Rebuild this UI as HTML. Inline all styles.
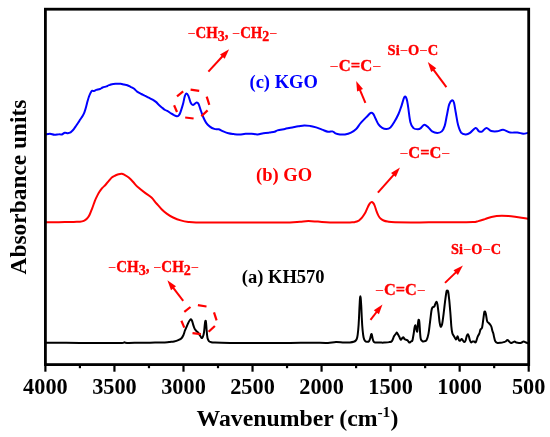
<!DOCTYPE html>
<html><head><meta charset="utf-8"><style>
html,body{margin:0;padding:0;background:#fff;}
body{width:550px;height:437px;overflow:hidden;}
svg{display:block;}
text{font-family:"Liberation Serif","Times New Roman",serif;font-weight:bold;}
</style></head><body>
<svg width="550" height="437" viewBox="0 0 550 437">
<rect width="550" height="437" fill="#fff"/>
<g fill="none" stroke-linejoin="round" stroke-linecap="round">
<path d="M45.5 134.5C46.2 134.4 48.5 133.6 50.0 133.7C51.5 133.8 52.9 134.7 54.4 134.8C55.9 134.9 57.7 134.2 58.9 134.2C60.1 134.1 60.8 134.8 61.8 134.5C62.8 134.2 63.8 132.9 64.8 132.7C65.8 132.5 66.9 133.2 67.8 133.2C68.7 133.2 69.3 132.9 70.0 132.6C70.7 132.3 71.1 131.8 71.8 131.2C72.5 130.6 73.3 129.7 74.0 128.8C74.7 127.9 75.3 127.0 76.0 126.0C76.7 125.0 77.6 123.5 78.3 122.5C79.0 121.5 79.3 120.9 80.0 119.8C80.7 118.7 81.9 117.2 82.6 116.0C83.3 114.8 83.8 113.9 84.4 112.3C85.0 110.7 85.7 108.4 86.2 106.5C86.7 104.6 87.1 102.7 87.6 101.0C88.1 99.3 88.5 97.9 89.0 96.5C89.5 95.1 90.3 93.4 90.8 92.4C91.3 91.5 91.7 91.0 92.2 90.8C92.7 90.6 93.3 91.2 94.0 91.0C94.7 90.8 95.3 90.2 96.3 89.9C97.3 89.6 98.9 89.4 100.0 89.0C101.1 88.6 101.6 87.9 102.7 87.5C103.8 87.1 105.6 86.7 106.4 86.4C107.2 86.1 107.0 86.1 107.6 85.8C108.2 85.5 109.3 85.1 110.0 84.8C110.7 84.5 110.9 84.4 112.0 84.2C113.1 84.0 115.0 83.9 116.4 83.8C117.9 83.7 119.4 83.7 120.7 83.8C122.0 83.9 122.9 84.4 124.0 84.6C125.1 84.8 126.2 84.8 127.3 85.2C128.4 85.6 129.4 86.2 130.5 86.8C131.6 87.3 132.7 87.7 133.8 88.5C134.9 89.3 135.8 90.7 137.1 91.6C138.4 92.5 140.2 93.3 141.5 94.0C142.8 94.7 143.6 95.0 144.7 95.6C145.8 96.1 147.1 96.8 148.0 97.3C148.9 97.8 149.2 97.9 150.0 98.3C150.8 98.7 151.6 99.1 152.6 99.7C153.6 100.3 154.9 101.1 155.9 101.9C156.9 102.7 157.5 103.6 158.5 104.5C159.5 105.4 160.7 106.5 161.8 107.4C162.9 108.3 164.1 109.4 165.1 110.0C166.1 110.6 166.8 110.6 167.7 111.1C168.6 111.6 169.3 112.4 170.3 113.0C171.3 113.6 172.5 114.4 173.6 114.9C174.7 115.4 175.9 116.1 176.8 116.2C177.7 116.3 178.2 116.0 178.8 115.3C179.4 114.6 179.9 113.7 180.4 112.3C180.9 110.9 181.6 108.7 182.1 107.1C182.6 105.5 183.0 104.2 183.4 102.5C183.8 100.8 184.2 98.1 184.7 96.6C185.2 95.1 185.6 93.7 186.2 93.6C186.8 93.5 187.7 94.3 188.4 95.8C189.1 97.3 189.8 101.0 190.6 102.5C191.3 104.0 191.9 105.0 192.9 105.0C193.9 105.0 195.6 102.6 196.6 102.5C197.6 102.4 198.0 102.9 198.7 104.3C199.4 105.7 200.2 108.9 201.0 111.0C201.8 113.1 202.3 115.0 203.2 117.0C204.1 119.0 205.1 121.3 206.2 122.9C207.3 124.5 208.6 125.6 209.9 126.6C211.2 127.6 212.8 128.4 214.3 128.9C215.8 129.4 217.3 128.9 218.8 129.3C220.3 129.7 221.7 130.7 223.3 131.4C224.9 132.1 226.8 132.9 228.5 133.3C230.2 133.8 231.8 133.9 233.7 134.1C235.5 134.3 237.6 134.6 239.6 134.5C241.6 134.4 243.6 133.9 245.6 133.8C247.6 133.7 249.5 133.7 251.5 133.8C253.5 133.9 255.5 134.5 257.5 134.4C259.5 134.3 261.4 133.6 263.4 133.3C265.4 133.0 267.4 132.8 269.3 132.6C271.2 132.3 273.2 132.2 274.6 131.8C276.0 131.4 275.7 130.9 277.4 130.4C279.1 129.9 282.4 129.4 284.9 128.9C287.4 128.4 290.1 127.8 292.3 127.4C294.5 127.0 296.3 126.6 298.3 126.3C300.3 126.0 302.2 125.5 304.2 125.4C306.2 125.3 308.1 125.6 310.1 125.9C312.1 126.2 314.1 126.8 316.1 127.4C318.1 128.0 320.0 128.9 322.0 129.6C324.0 130.3 326.2 131.5 328.0 131.8C329.8 132.1 331.3 131.2 332.5 131.4C333.7 131.7 334.2 132.8 335.4 133.3C336.6 133.8 338.3 134.2 339.9 134.4C341.5 134.6 343.1 134.7 345.0 134.4C346.9 134.1 349.1 133.5 351.0 132.6C352.9 131.7 354.7 130.3 356.2 128.9C357.7 127.5 358.7 125.5 359.9 124.0C361.1 122.5 362.4 121.2 363.6 119.9C364.8 118.6 366.1 117.4 367.3 116.2C368.5 115.0 369.6 113.4 370.6 113.0C371.6 112.6 372.5 113.1 373.3 114.0C374.1 114.9 374.6 116.8 375.5 118.5C376.4 120.2 377.4 122.9 378.5 124.4C379.6 126.0 380.8 127.0 382.2 127.8C383.6 128.6 385.2 129.0 386.6 128.9C388.0 128.8 389.1 128.5 390.4 127.4C391.6 126.3 392.8 124.4 394.1 122.2C395.5 120.0 397.3 116.7 398.5 114.0C399.7 111.3 400.5 108.6 401.5 105.8C402.5 103.0 403.6 98.0 404.5 96.9C405.4 95.8 406.1 97.4 406.7 99.1C407.3 100.8 407.6 103.4 408.2 107.3C408.8 111.2 409.5 118.7 410.4 122.2C411.3 125.7 412.1 126.9 413.4 128.1C414.6 129.3 416.7 129.3 417.9 129.3C419.1 129.3 419.8 128.9 420.8 128.1C421.9 127.3 422.9 124.8 424.2 124.7C425.5 124.6 427.1 126.3 428.4 127.4C429.7 128.5 430.6 130.5 432.1 131.4C433.6 132.3 435.7 132.9 437.3 132.9C438.9 132.9 440.6 132.6 441.8 131.4C443.0 130.2 443.8 128.7 444.7 125.9C445.6 123.1 446.2 118.3 447.0 114.7C447.8 111.1 448.3 106.7 449.2 104.3C450.1 101.9 451.4 100.5 452.2 100.2C453.0 100.0 453.4 100.6 454.0 102.8C454.6 105.0 455.2 109.6 455.9 113.3C456.6 117.0 457.2 121.9 458.1 125.1C459.0 128.3 459.9 131.0 461.1 132.6C462.4 134.2 464.1 134.3 465.6 134.4C467.1 134.5 468.4 134.0 470.0 132.9C471.6 131.8 474.0 128.3 475.5 128.0C477.0 127.7 477.9 130.7 479.0 131.3C480.1 131.9 480.7 132.2 481.9 131.6C483.1 131.0 484.8 128.0 486.4 127.9C488.0 127.8 489.5 130.4 491.3 131.0C493.1 131.6 495.2 131.5 497.2 131.3C499.2 131.1 500.9 129.6 503.1 129.8C505.3 130.0 507.8 132.1 510.2 132.5C512.6 132.9 515.1 132.3 517.3 132.5C519.5 132.7 521.4 133.6 523.2 133.7C525.0 133.8 527.1 133.0 527.9 132.9" stroke="#0000ff" stroke-width="2"/>
<path d="M45.5 222.2C47.7 222.2 54.2 222.2 58.9 222.2C63.6 222.1 70.2 222.0 73.7 221.9C77.2 221.8 78.3 221.9 80.0 221.7C81.7 221.5 82.6 221.3 83.8 220.8C85.0 220.3 86.1 219.5 87.1 218.5C88.1 217.5 88.8 216.5 89.6 214.8C90.4 213.1 91.3 210.6 92.2 208.3C93.1 206.1 93.9 203.4 94.7 201.3C95.5 199.2 96.4 197.3 97.3 195.6C98.2 193.9 99.1 192.4 99.9 191.1C100.8 189.8 101.5 189.0 102.4 187.9C103.4 186.8 104.5 185.9 105.6 184.7C106.7 183.5 107.7 182.1 108.8 180.8C109.9 179.6 111.0 178.1 112.1 177.2C113.2 176.3 114.2 176.0 115.3 175.5C116.4 175.0 117.4 174.6 118.5 174.3C119.6 174.0 120.6 173.7 121.7 173.8C122.8 173.9 123.7 174.5 124.9 175.1C126.1 175.7 127.3 176.4 128.7 177.6C130.1 178.8 131.9 180.7 133.4 182.3C134.9 183.9 135.9 185.3 137.8 187.1C139.8 188.9 142.8 191.2 145.1 192.9C147.4 194.6 149.6 195.7 151.5 197.5C153.4 199.3 154.8 201.6 156.5 203.5C158.2 205.4 159.9 207.5 161.6 209.2C163.3 210.9 164.8 212.2 166.7 213.6C168.6 215.0 170.8 216.4 173.1 217.5C175.4 218.6 178.1 219.7 180.7 220.4C183.2 221.1 185.8 221.6 188.4 221.9C191.0 222.2 192.4 222.4 196.0 222.5C199.6 222.6 204.3 222.6 210.0 222.6C215.7 222.6 223.3 222.5 230.0 222.5C236.7 222.5 243.3 222.5 250.0 222.5C256.7 222.5 263.3 222.5 270.0 222.5C276.7 222.5 285.0 222.5 290.0 222.4C295.0 222.3 296.9 221.9 300.0 221.7C303.1 221.5 305.4 221.1 308.4 221.1C311.4 221.1 314.4 221.4 318.0 221.6C321.6 221.8 324.7 222.3 330.0 222.4C335.3 222.5 345.9 222.5 350.0 222.4C354.1 222.3 353.3 222.4 354.8 222.1C356.3 221.8 357.6 221.3 358.8 220.6C360.0 219.8 361.0 218.8 362.0 217.6C363.0 216.4 363.9 215.1 364.8 213.6C365.7 212.1 366.5 209.9 367.2 208.4C367.9 206.9 368.5 205.5 369.2 204.4C369.9 203.3 370.7 202.3 371.4 202.1C372.1 201.9 372.6 202.3 373.2 203.0C373.8 203.7 374.3 204.7 374.8 206.0C375.3 207.3 375.8 209.2 376.4 210.8C377.0 212.4 377.7 214.3 378.4 215.6C379.1 216.9 379.9 218.0 380.8 218.8C381.7 219.6 382.5 220.0 383.6 220.5C384.7 221.0 385.7 221.3 387.6 221.6C389.5 221.9 389.6 222.2 395.0 222.3C400.4 222.4 411.7 222.4 420.0 222.4C428.3 222.4 438.3 222.3 445.0 222.3C451.7 222.3 455.3 222.2 460.0 222.2C464.7 222.2 470.1 222.3 473.1 222.1C476.2 221.9 476.3 221.6 478.3 221.1C480.3 220.6 482.7 219.8 484.9 219.1C487.1 218.4 489.4 217.5 491.4 217.0C493.3 216.5 494.9 216.2 496.6 216.0C498.4 215.8 499.9 215.7 501.9 215.7C503.9 215.7 506.2 215.8 508.4 216.0C510.6 216.2 512.8 216.5 515.0 216.8C517.2 217.1 519.3 217.4 521.5 217.7C523.7 218.0 526.9 218.5 528.0 218.7" stroke="#ff0000" stroke-width="2"/>
<path d="M45.5 342.8C51.2 342.8 69.2 342.9 80.0 342.9C90.8 342.9 103.0 342.9 110.0 342.9C117.0 342.9 119.6 343.0 122.0 342.9C124.4 342.8 123.7 342.3 124.5 342.3C125.3 342.3 124.4 342.8 127.0 342.9C129.6 343.0 136.2 342.8 140.0 342.8C143.8 342.8 146.7 342.8 150.0 342.7C153.3 342.6 157.1 342.6 160.0 342.5C162.9 342.4 165.8 342.3 167.5 342.2C169.2 342.1 168.9 342.0 170.0 341.9C171.1 341.8 172.7 341.8 174.1 341.5C175.5 341.2 177.0 340.8 178.2 340.2C179.4 339.6 180.6 339.1 181.5 338.2C182.4 337.3 182.9 336.2 183.5 334.9C184.1 333.6 184.5 331.6 185.1 330.2C185.7 328.8 186.2 327.6 186.8 326.3C187.4 325.0 187.9 323.7 188.4 322.6C188.9 321.6 189.6 320.5 190.0 320.0C190.4 319.5 190.8 319.2 191.1 319.4C191.4 319.6 191.7 320.1 192.1 321.0C192.5 321.9 192.9 323.9 193.3 325.1C193.7 326.3 194.0 327.4 194.5 328.4C195.0 329.3 195.6 330.1 196.2 330.8C196.8 331.5 197.6 331.9 198.2 332.6C198.8 333.4 199.3 334.4 199.9 335.3C200.5 336.2 201.0 337.5 201.5 337.8C202.0 338.1 202.3 338.1 202.7 337.2C203.1 336.3 203.7 334.6 204.0 332.5C204.3 330.4 204.6 326.4 204.8 324.5C205.0 322.6 205.2 321.4 205.4 321.0C205.6 320.6 205.8 320.4 206.0 322.0C206.2 323.6 206.4 328.1 206.7 330.8C206.9 333.5 207.1 336.3 207.5 338.0C207.9 339.7 208.3 340.4 208.9 341.1C209.5 341.8 209.9 341.9 210.9 342.1C211.9 342.4 211.8 342.5 215.0 342.6C218.2 342.7 222.5 342.8 230.0 342.9C237.5 342.9 250.0 342.9 260.0 342.9C270.0 342.9 280.0 342.9 290.0 342.9C300.0 342.9 313.7 342.8 320.0 342.8C326.3 342.8 325.3 343.1 328.0 343.0C330.7 342.9 333.3 342.2 336.0 342.1C338.7 342.0 341.7 342.6 344.0 342.6C346.3 342.7 348.4 342.5 350.0 342.4C351.6 342.3 352.7 342.1 353.7 341.8C354.7 341.5 355.2 341.2 355.8 340.5C356.4 339.8 356.8 339.2 357.2 337.5C357.6 335.8 357.9 333.2 358.2 330.0C358.5 326.8 358.8 322.2 359.0 318.0C359.2 313.8 359.4 308.4 359.6 305.0C359.8 301.6 359.9 298.6 360.1 297.3C360.3 296.0 360.4 296.0 360.6 297.3C360.8 298.6 361.0 301.6 361.2 305.0C361.4 308.4 361.6 313.8 361.8 318.0C362.0 322.2 362.3 326.8 362.6 330.0C362.9 333.2 363.2 335.7 363.6 337.5C364.0 339.3 364.4 340.1 365.0 340.8C365.6 341.5 366.3 341.7 367.0 341.8C367.7 341.9 368.4 341.9 369.0 341.3C369.6 340.7 369.9 339.1 370.3 338.0C370.7 336.9 370.9 335.1 371.2 334.5C371.4 333.9 371.6 333.8 371.8 334.5C372.0 335.2 372.3 337.3 372.6 338.5C372.9 339.7 373.2 340.9 373.6 341.5C374.0 342.1 373.9 342.2 375.0 342.4C376.1 342.6 378.5 342.6 380.0 342.6C381.5 342.6 382.4 342.7 384.0 342.6C385.6 342.5 388.0 342.4 389.3 342.1C390.6 341.9 391.1 342.1 391.9 341.1C392.7 340.1 393.4 337.5 394.0 336.3C394.6 335.1 395.1 334.8 395.6 334.2C396.1 333.6 396.4 332.6 396.8 332.6C397.2 332.6 397.5 333.5 397.9 334.2C398.3 334.9 398.8 335.9 399.3 336.8C399.8 337.7 400.3 339.6 400.8 339.8C401.3 340.0 401.9 338.3 402.4 337.9C402.8 337.5 403.1 337.2 403.5 337.4C403.9 337.6 404.1 338.6 404.5 339.0C404.9 339.4 405.6 339.6 406.1 339.8C406.6 340.1 407.2 340.0 407.7 340.5C408.2 341.0 408.8 342.4 409.3 342.6C409.8 342.8 410.3 342.0 410.8 341.6C411.3 341.2 411.9 341.6 412.4 340.5C412.8 339.4 413.1 336.8 413.5 334.7C413.9 332.6 414.2 329.5 414.5 327.9C414.8 326.3 415.1 325.2 415.4 325.3C415.7 325.4 415.8 327.3 416.1 328.4C416.4 329.4 416.9 332.3 417.2 331.6C417.5 330.9 417.7 326.1 417.9 324.2C418.1 322.3 418.3 320.4 418.5 320.0C418.7 319.6 419.1 319.7 419.3 321.6C419.6 323.5 419.8 328.7 420.0 331.6C420.2 334.5 420.4 337.4 420.8 339.0C421.2 340.6 421.9 340.7 422.4 341.1C422.9 341.5 423.3 341.6 424.0 341.4C424.7 341.2 425.9 341.3 426.6 340.0C427.4 338.7 427.9 336.6 428.5 333.6C429.1 330.7 429.5 326.1 430.0 322.3C430.5 318.5 431.0 313.5 431.4 311.0C431.8 308.5 432.0 308.1 432.5 307.4C433.0 306.7 433.7 307.3 434.2 306.7C434.7 306.1 434.9 304.7 435.3 303.9C435.7 303.1 436.1 301.6 436.5 301.7C436.9 301.8 437.2 302.8 437.5 304.6C437.8 306.4 438.1 309.4 438.5 312.4C438.9 315.3 439.2 319.9 439.6 322.3C440.0 324.7 440.3 326.6 440.7 326.8C441.1 327.0 441.7 325.9 442.2 323.7C442.7 321.5 443.1 317.8 443.6 313.8C444.1 309.8 444.8 303.3 445.3 299.6C445.8 295.9 446.2 293.0 446.5 291.5C446.8 290.0 447.0 290.6 447.3 290.6C447.6 290.7 447.9 290.3 448.2 291.8C448.5 293.3 448.8 296.2 449.2 299.6C449.6 303.0 449.9 307.6 450.3 312.0C450.7 316.4 451.0 322.5 451.3 326.0C451.6 329.5 451.9 331.4 452.3 333.0C452.7 334.6 453.2 334.9 453.7 335.8C454.2 336.7 454.7 337.6 455.1 338.2C455.5 338.8 455.9 339.6 456.3 339.3C456.7 339.0 457.2 336.1 457.6 336.2C458.0 336.3 458.4 339.3 458.9 340.0C459.3 340.7 459.9 340.7 460.3 340.5C460.8 340.3 461.2 339.0 461.6 338.9C462.0 338.8 462.2 339.5 462.6 340.0C463.0 340.5 463.7 342.0 464.2 342.1C464.7 342.2 465.2 341.6 465.6 340.5C466.0 339.4 466.4 336.9 466.8 335.8C467.2 334.8 467.5 334.1 467.9 334.2C468.2 334.3 468.5 335.2 468.9 336.3C469.2 337.4 469.6 339.5 470.0 340.5C470.4 341.5 470.7 342.2 471.1 342.4C471.5 342.6 472.1 341.7 472.6 341.6C473.1 341.5 473.7 341.5 474.2 341.6C474.7 341.7 475.2 342.9 475.8 342.1C476.4 341.3 477.0 338.2 477.6 336.8C478.2 335.4 478.8 334.9 479.3 333.7C479.8 332.5 480.0 330.6 480.5 329.5C481.0 328.4 481.6 329.3 482.1 327.4C482.6 325.5 483.1 320.5 483.5 317.9C483.9 315.3 484.1 312.3 484.5 311.6C484.9 310.9 485.4 312.1 485.8 313.7C486.2 315.3 486.7 319.6 487.1 321.1C487.5 322.6 487.9 322.1 488.4 322.6C488.9 323.2 489.5 323.8 490.0 324.4C490.5 325.0 490.9 325.5 491.3 326.5C491.7 327.5 492.0 329.3 492.3 330.5C492.6 331.7 493.1 332.5 493.4 333.7C493.7 334.9 493.9 336.5 494.2 337.6C494.5 338.8 494.7 339.8 495.0 340.6C495.3 341.4 495.7 341.9 496.1 342.3C496.5 342.7 496.8 342.8 497.6 342.9C498.4 343.0 499.7 342.8 500.7 342.7C501.7 342.6 502.9 342.3 503.7 342.1C504.5 341.9 505.0 341.9 505.6 341.5C506.2 341.1 506.8 340.0 507.4 340.0C508.0 340.0 508.6 340.9 509.1 341.4C509.6 341.9 510.0 342.7 510.6 342.9C511.2 343.1 511.8 342.7 512.5 342.5C513.2 342.3 514.0 341.5 514.6 341.5C515.2 341.5 515.6 342.3 516.3 342.5C517.0 342.7 518.2 342.9 519.0 342.9C519.8 342.9 520.5 342.9 521.3 342.7C522.1 342.5 522.8 341.5 523.6 341.5C524.4 341.5 525.2 342.2 525.9 342.5C526.6 342.8 527.5 343.1 527.8 343.2" stroke="#000" stroke-width="2"/>
</g>
<g stroke="#ff0000" stroke-width="2.2" stroke-linecap="butt"><line x1="177.0" y1="96.3" x2="183.2" y2="91.4"/><line x1="190.6" y1="89.6" x2="199.2" y2="90.9"/><line x1="206.7" y1="96.7" x2="209.3" y2="104.8"/><line x1="207.6" y1="110.4" x2="201.3" y2="116.2"/><line x1="185.2" y1="117.5" x2="193.6" y2="118.5"/><line x1="174.1" y1="105.2" x2="177.0" y2="112.0"/><line x1="184.3" y1="311.9" x2="190.5" y2="307.0"/><line x1="197.9" y1="305.2" x2="206.5" y2="306.5"/><line x1="214.0" y1="312.3" x2="216.6" y2="320.4"/><line x1="214.9" y1="326.0" x2="208.6" y2="331.8"/><line x1="192.5" y1="333.1" x2="200.9" y2="334.1"/><line x1="181.4" y1="320.8" x2="184.3" y2="327.6"/></g>
<line x1="208.4" y1="71.6" x2="223.0" y2="55.8" stroke="#ff0000" stroke-width="2.0"/><polygon points="229.1,49.2 224.7,58.7 220.0,54.4" fill="#ff0000"/><line x1="365.4" y1="102.8" x2="359.7" y2="89.3" stroke="#ff0000" stroke-width="2.0"/><polygon points="356.2,81.0 363.0,89.0 357.1,91.5" fill="#ff0000"/><line x1="446.4" y1="87.1" x2="433.2" y2="69.3" stroke="#ff0000" stroke-width="2.0"/><polygon points="427.8,62.1 436.3,68.2 431.2,72.0" fill="#ff0000"/><line x1="377.9" y1="192.7" x2="394.1" y2="174.3" stroke="#ff0000" stroke-width="2.0"/><polygon points="400.0,167.5 395.8,177.1 391.0,172.9" fill="#ff0000"/><line x1="183.2" y1="300.8" x2="172.9" y2="287.4" stroke="#ff0000" stroke-width="2.0"/><polygon points="167.4,280.3 176.0,286.3 171.0,290.2" fill="#ff0000"/><line x1="370.5" y1="319.8" x2="377.0" y2="311.5" stroke="#ff0000" stroke-width="2.0"/><polygon points="382.5,304.4 378.9,314.3 373.8,310.3" fill="#ff0000"/><line x1="445.0" y1="282.9" x2="456.4" y2="271.9" stroke="#ff0000" stroke-width="2.0"/><polygon points="462.9,265.6 457.9,274.9 453.5,270.2" fill="#ff0000"/>
<rect x="45.4" y="9.2" width="483.3" height="355.4" fill="none" stroke="#000" stroke-width="2.8"/>
<g stroke="#000" stroke-width="2.2"><line x1="45.40" y1="364.6" x2="45.40" y2="371.7"/><line x1="79.92" y1="364.6" x2="79.92" y2="368.2"/><line x1="114.44" y1="364.6" x2="114.44" y2="371.7"/><line x1="148.96" y1="364.6" x2="148.96" y2="368.2"/><line x1="183.49" y1="364.6" x2="183.49" y2="371.7"/><line x1="218.01" y1="364.6" x2="218.01" y2="368.2"/><line x1="252.53" y1="364.6" x2="252.53" y2="371.7"/><line x1="287.05" y1="364.6" x2="287.05" y2="368.2"/><line x1="321.57" y1="364.6" x2="321.57" y2="371.7"/><line x1="356.09" y1="364.6" x2="356.09" y2="368.2"/><line x1="390.61" y1="364.6" x2="390.61" y2="371.7"/><line x1="425.14" y1="364.6" x2="425.14" y2="368.2"/><line x1="459.66" y1="364.6" x2="459.66" y2="371.7"/><line x1="494.18" y1="364.6" x2="494.18" y2="368.2"/><line x1="528.70" y1="364.6" x2="528.70" y2="371.7"/></g>
<g font-size="22.3" text-anchor="middle" fill="#000"><text x="45.40" y="393.6">4000</text><text x="114.44" y="393.6">3500</text><text x="183.49" y="393.6">3000</text><text x="252.53" y="393.6">2500</text><text x="321.57" y="393.6">2000</text><text x="390.61" y="393.6">1500</text><text x="459.66" y="393.6">1000</text><text x="528.70" y="393.6">500</text></g>
<text x="297.4" y="426.2" font-size="23.75" text-anchor="middle" fill="#000">Wavenumber (cm<tspan font-size="15.5" dy="-9">-1</tspan><tspan dy="9">)</tspan></text>
<text transform="translate(26 187) rotate(-90)" font-size="23.4" text-anchor="middle" fill="#000">Absorbance units</text>
<g fill="#ff0000" font-size="16.5" stroke="#ff0000" stroke-width="0.35">
<text x="187.40" y="38.20" textLength="90.01" lengthAdjust="spacingAndGlyphs"><tspan font-weight="normal" stroke-width="0" font-size="16" baseline-shift="-0.8">&#8722;</tspan>CH<tspan font-size="15.5" dy="3.0">3</tspan><tspan dy="-3.0">, </tspan><tspan font-weight="normal" stroke-width="0" font-size="16" baseline-shift="-0.8">&#8722;</tspan>CH<tspan font-size="15.5" dy="3">2</tspan><tspan font-weight="normal" stroke-width="0" font-size="16" baseline-shift="-0.8" dy="-3">&#8722;</tspan></text>
<text x="329.60" y="71.25" textLength="51.73" lengthAdjust="spacingAndGlyphs"><tspan font-weight="normal" stroke-width="0" font-size="16" baseline-shift="-0.7">&#8722;</tspan>C=C<tspan font-weight="normal" stroke-width="0" font-size="16" baseline-shift="-0.7">&#8722;</tspan></text>
<text x="387.60" y="54.70" textLength="50.58" lengthAdjust="spacingAndGlyphs" font-size="15.5">Si<tspan font-weight="normal" stroke-width="0" font-size="16" baseline-shift="-0.5">&#8722;</tspan>O<tspan font-weight="normal" stroke-width="0" font-size="16" baseline-shift="-0.5">&#8722;</tspan>C</text>
<text x="399.40" y="158.40" textLength="50.89" lengthAdjust="spacingAndGlyphs"><tspan font-weight="normal" stroke-width="0" font-size="16" baseline-shift="-0.7">&#8722;</tspan>C=C<tspan font-weight="normal" stroke-width="0" font-size="16" baseline-shift="-0.7">&#8722;</tspan></text>
<text x="108.00" y="272.10" textLength="91.02" lengthAdjust="spacingAndGlyphs"><tspan font-weight="normal" stroke-width="0" font-size="16" baseline-shift="-0.8">&#8722;</tspan>CH<tspan font-size="15.5" dy="3.0">3</tspan><tspan dy="-3.0">, </tspan><tspan font-weight="normal" stroke-width="0" font-size="16" baseline-shift="-0.8">&#8722;</tspan>CH<tspan font-size="15.5" dy="3">2</tspan><tspan font-weight="normal" stroke-width="0" font-size="16" baseline-shift="-0.8" dy="-3">&#8722;</tspan></text>
<text x="375.00" y="295.25" textLength="50.69" lengthAdjust="spacingAndGlyphs"><tspan font-weight="normal" stroke-width="0" font-size="16" baseline-shift="-0.7">&#8722;</tspan>C=C<tspan font-weight="normal" stroke-width="0" font-size="16" baseline-shift="-0.7">&#8722;</tspan></text>
<text x="451.00" y="254.45" textLength="50.10" lengthAdjust="spacingAndGlyphs" font-size="15.5">Si<tspan font-weight="normal" stroke-width="0" font-size="16" baseline-shift="-0.5">&#8722;</tspan>O<tspan font-weight="normal" stroke-width="0" font-size="16" baseline-shift="-0.5">&#8722;</tspan>C</text>
</g>
<text x="249.5" y="87.8" font-size="18.5" fill="#0000ff">(c) KGO</text>
<text x="256" y="180.8" font-size="18.5" fill="#ff0000">(b) GO</text>
<text x="241.8" y="282.5" font-size="18.5" fill="#000">(a) KH570</text>
</svg>
</body></html>
